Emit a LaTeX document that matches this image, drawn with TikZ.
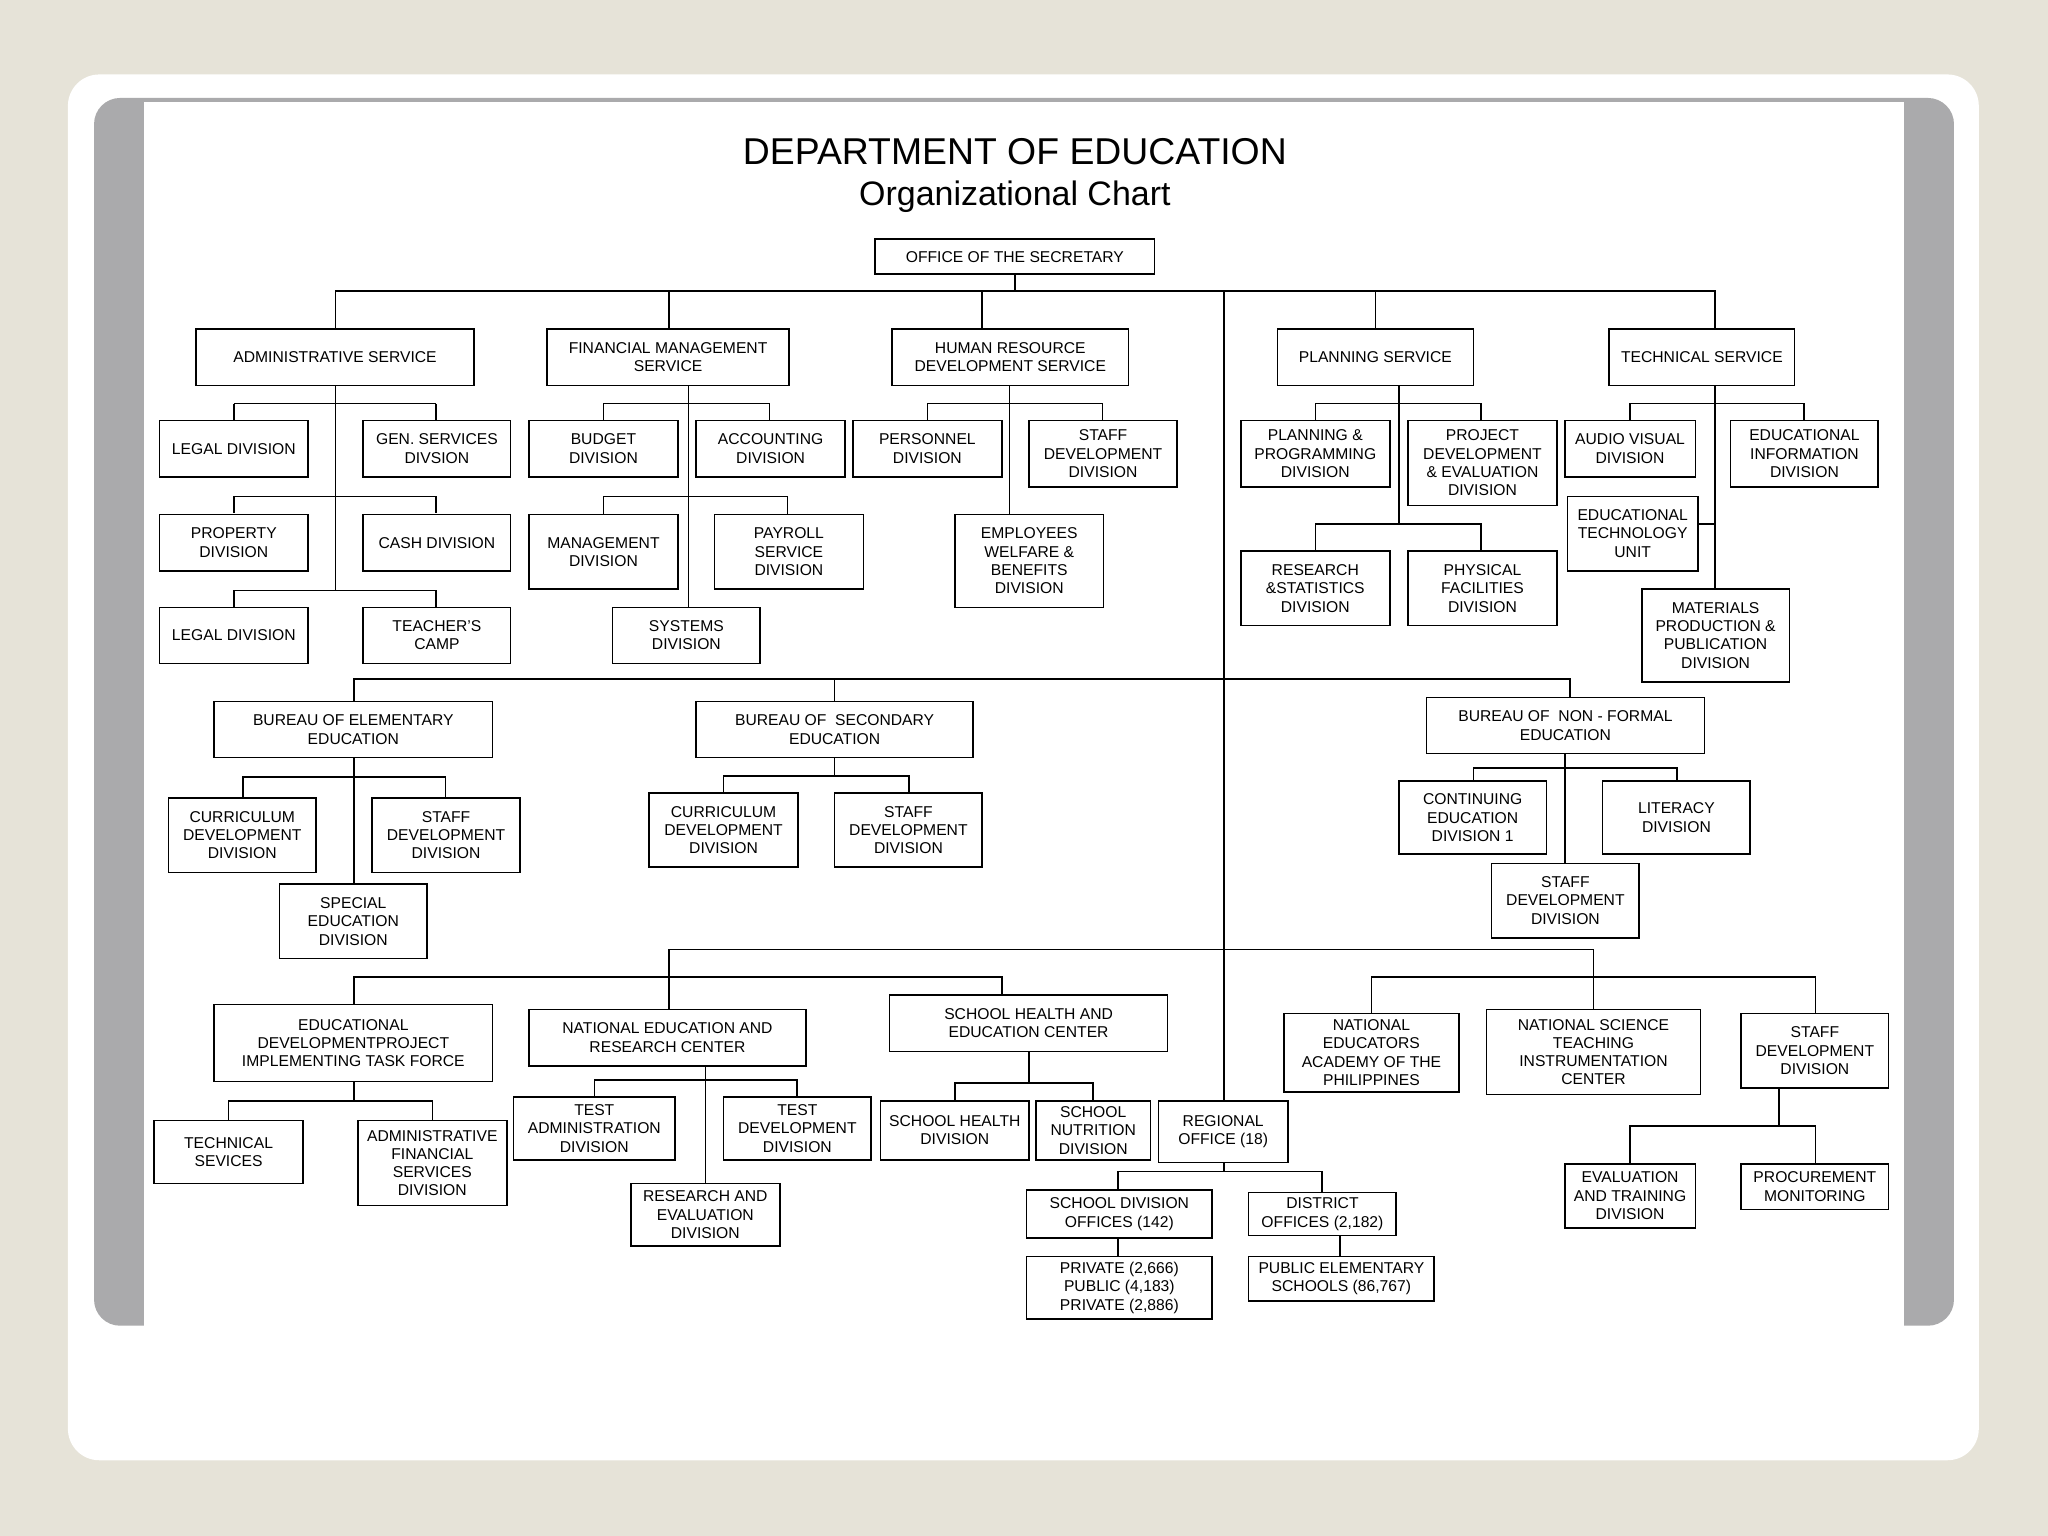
\documentclass[tikz,border=0pt]{standalone}
\usepackage{fontspec}
\setmainfont{Liberation Sans}
\begin{document}
\begin{tikzpicture}[x=0.5pt,y=-0.5pt,line width=0.6pt,
 box/.style={draw,fill=white,inner sep=0pt,align=center,font=\fontsize{6}{7}\selectfont}]
\useasboundingbox (0,0) rectangle (1568,1176);
\fill[color={rgb,255:red,230;green,227;blue,216}] (0,0) rectangle (1568,1176);
\fill[white,rounded corners=12pt] (52,57) rectangle (1515,1118);
\fill[color={rgb,255:red,170;green,170;blue,172},rounded corners=10pt] (72,75) rectangle (1496,1015);
\fill[white] (110,78) rectangle (1458,1015);
\newcommand\B[6]{\node[box,minimum width={(#4-#2)*0.5pt},minimum height={(#5-#3)*0.5pt}] (#1) at ({(#2+#4)/2},{(#3+#5)/2}) {#6};}
\node[font=\fontsize{14.3}{17}\selectfont] (t1) at (777,116) {DEPARTMENT OF EDUCATION};
\node[font=\fontsize{13}{16}\selectfont] (t2) at (777,151) {Organizational Chart};
% buses
\draw (777,210) -- (777,223);
\draw (257,252) -- (257,223) -- (1313,223) -- (1313,252);
\foreach \x in {512,752,1053} \draw (\x,223) -- (\x,252);
\draw (937,223) -- (937,843);
% services
\B{sec}{670}{183}{884}{210}{OFFICE OF THE SECRETARY}
\B{adm}{150}{252}{363}{295}{ADMINISTRATIVE SERVICE}
\B{fin}{419}{252}{604}{295}{FINANCIAL MANAGEMENT\\SERVICE}
\B{hr}{683}{252}{864}{295}{HUMAN RESOURCE\\DEVELOPMENT SERVICE}
\B{plan}{978}{252}{1128}{295}{PLANNING SERVICE}
\B{tech}{1232}{252}{1374}{295}{TECHNICAL SERVICE}
% admin
\draw (257,295) -- (257,452);
\foreach \y in {309,380,452} {\draw (179,\y) -- (334,\y); \draw (179,\y) -- ++(0,13); \draw (334,\y) -- ++(0,13);}
\B{l1}{122}{322}{236}{365}{LEGAL DIVISION}
\B{gen}{278}{322}{391}{365}{GEN. SERVICES\\DIVSION}
\B{prop}{122}{394}{236}{437}{PROPERTY\\DIVISION}
\B{cash}{278}{394}{391}{437}{CASH DIVISION}
\B{l2}{122}{465}{236}{508}{LEGAL DIVISION}
\B{teach}{278}{465}{391}{508}{TEACHER'S\\CAMP}
% fin
\draw (527,295) -- (527,465);
\draw (462,322) -- (462,309) -- (589,309) -- (589,322);
\draw (462,394) -- (462,380) -- (603,380) -- (603,394);
\B{bud}{405}{322}{519}{365}{BUDGET\\DIVISION}
\B{acc}{533}{322}{647}{365}{ACCOUNTING\\DIVISION}
\B{man}{405}{394}{519}{451}{MANAGEMENT\\DIVISION}
\B{pay}{547}{394}{661}{451}{PAYROLL\\SERVICE\\DIVISION}
\B{sys}{469}{465}{582}{508}{SYSTEMS\\DIVISION}
% hr
\draw (773,295) -- (773,394);
\draw (710,322) -- (710,309) -- (844,309) -- (844,322);
\B{pers}{653}{322}{767}{365}{PERSONNEL\\DIVISION}
\B{hstaff}{788}{322}{901}{373}{STAFF\\DEVELOPMENT\\DIVISION}
\B{emp}{731}{394}{845}{465}{EMPLOYEES\\WELFARE \&\\BENEFITS\\DIVISION}
% planning
\draw (1071,295) -- (1071,401);
\draw (1007,322) -- (1007,309) -- (1134,309) -- (1134,322);
\draw (1007,422) -- (1007,401) -- (1134,401) -- (1134,422);
\B{pp}{950}{322}{1064}{373}{PLANNING \&\\PROGRAMMING\\DIVISION}
\B{pd}{1078}{322}{1192}{387}{PROJECT\\DEVELOPMENT\\\& EVALUATION\\DIVISION}
\B{rs}{950}{422}{1064}{479}{RESEARCH\\\&STATISTICS\\DIVISION}
\B{pf}{1078}{422}{1192}{479}{PHYSICAL\\FACILITIES\\DIVISION}
% tech
\draw (1313,295) -- (1313,451);
\draw (1248,322) -- (1248,309) -- (1381,309) -- (1381,322);
\draw (1300,401) -- (1313,401);
\B{av}{1198}{322}{1298}{365}{AUDIO VISUAL\\DIVISION}
\B{ei}{1325}{322}{1438}{373}{EDUCATIONAL\\INFORMATION\\DIVISION}
\B{et}{1200}{380}{1300}{437}{EDUCATIONAL\\TECHNOLOGY\\UNIT}
\B{mat}{1257}{451}{1370}{522}{MATERIALS\\PRODUCTION \&\\PUBLICATION\\DIVISION}
% bureaus
\draw (271,537) -- (271,520) -- (1202,520) -- (1202,534);
\draw (639,520) -- (639,537);
\B{bee}{164}{537}{377}{580}{BUREAU OF ELEMENTARY\\EDUCATION}
\B{bse}{533}{537}{745}{580}{BUREAU OF\ \ SECONDARY\\EDUCATION}
\B{bnfe}{1092}{534}{1305}{577}{BUREAU OF\ \ NON - FORMAL\\EDUCATION}
\draw (271,580) -- (271,677);
\draw (186,611) -- (186,595) -- (341,595) -- (341,611);
\B{c1}{129}{611}{242}{668}{CURRICULUM\\DEVELOPMENT\\DIVISION}
\B{s1}{285}{611}{398}{668}{STAFF\\DEVELOPMENT\\DIVISION}
\B{sp}{214}{677}{327}{734}{SPECIAL\\EDUCATION\\DIVISION}
\draw (639,580) -- (639,594);
\draw (554,607) -- (554,594) -- (696,594) -- (696,607);
\B{c2}{497}{607}{611}{664}{CURRICULUM\\DEVELOPMENT\\DIVISION}
\B{s2}{639}{607}{752}{664}{STAFF\\DEVELOPMENT\\DIVISION}
\draw (1198,577) -- (1198,661);
\draw (1128,598) -- (1128,588) -- (1284,588) -- (1284,598);
\B{ce}{1071}{598}{1184}{654}{CONTINUING\\EDUCATION\\DIVISION 1}
\B{lit}{1227}{598}{1340}{654}{LITERACY\\DIVISION}
\B{s3}{1142}{661}{1255}{718}{STAFF\\DEVELOPMENT\\DIVISION}
% bottom
\draw (512,748) -- (512,727) -- (1220,727) -- (1220,748);
\draw (271,769) -- (271,748) -- (767,748) -- (767,762);
\draw (512,748) -- (512,773);
\draw (1050,776) -- (1050,748) -- (1390,748) -- (1390,776);
\draw (1220,748) -- (1220,773);
\B{edp}{164}{769}{377}{828}{EDUCATIONAL\\DEVELOPMENTPROJECT\\IMPLEMENTING TASK FORCE}
\B{nerc}{405}{773}{617}{816}{NATIONAL EDUCATION AND\\RESEARCH CENTER}
\B{shec}{681}{762}{894}{805}{SCHOOL HEALTH AND\\EDUCATION CENTER}
\draw (271,828) -- (271,843); \draw (175,858) -- (175,843) -- (331,843) -- (331,858);
\B{ts}{118}{858}{232}{906}{TECHNICAL\\SEVICES}
\B{af}{274}{858}{388}{923}{ADMINISTRATIVE\\FINANCIAL\\SERVICES\\DIVISION}
\draw (540,816) -- (540,906); \draw (455,840) -- (455,827) -- (610,827) -- (610,840);
\B{ta}{393}{840}{517}{888}{TEST\\ADMINISTRATION\\DIVISION}
\B{td}{554}{840}{667}{888}{TEST\\DEVELOPMENT\\DIVISION}
\B{re}{483}{906}{597}{954}{RESEARCH AND\\EVALUATION\\DIVISION}
\draw (788,805) -- (788,829); \draw (731,843) -- (731,829) -- (837,829) -- (837,843);
\B{sh}{674}{843}{788}{888}{SCHOOL HEALTH\\DIVISION}
\B{sn}{793}{843}{881}{888}{SCHOOL\\NUTRITION\\DIVISION}
\B{reg}{887}{843}{986}{890}{REGIONAL\\OFFICE (18)}
\draw (937,890) -- (937,897); \draw (856,911) -- (856,897) -- (1012,897) -- (1012,913);
\B{sdo}{786}{911}{928}{948}{SCHOOL DIVISION\\OFFICES (142)}
\B{dis}{956}{913}{1069}{946}{DISTRICT\\OFFICES (2,182)}
\draw (856,948) -- (856,962);
\draw (1026,946) -- (1026,962);
\B{priv}{786}{962}{928}{1010}{PRIVATE (2,666)\\PUBLIC (4,183)\\PRIVATE (2,886)}
\B{pes}{956}{962}{1098}{996}{PUBLIC ELEMENTARY\\SCHOOLS (86,767)}
\B{neap}{983}{776}{1117}{836}{NATIONAL\\EDUCATORS\\ACADEMY OF THE\\PHILIPPINES}
\B{nstic}{1138}{773}{1302}{838}{NATIONAL SCIENCE\\TEACHING\\INSTRUMENTATION\\CENTER}
\B{s4}{1333}{776}{1446}{833}{STAFF\\DEVELOPMENT\\DIVISION}
\draw (1362,833) -- (1362,862); \draw (1248,891) -- (1248,862) -- (1390,862) -- (1390,891);
\B{evt}{1198}{891}{1298}{940}{EVALUATION\\AND TRAINING\\DIVISION}
\B{pm}{1333}{891}{1446}{926}{PROCUREMENT\\MONITORING}
\end{tikzpicture}
\end{document}
